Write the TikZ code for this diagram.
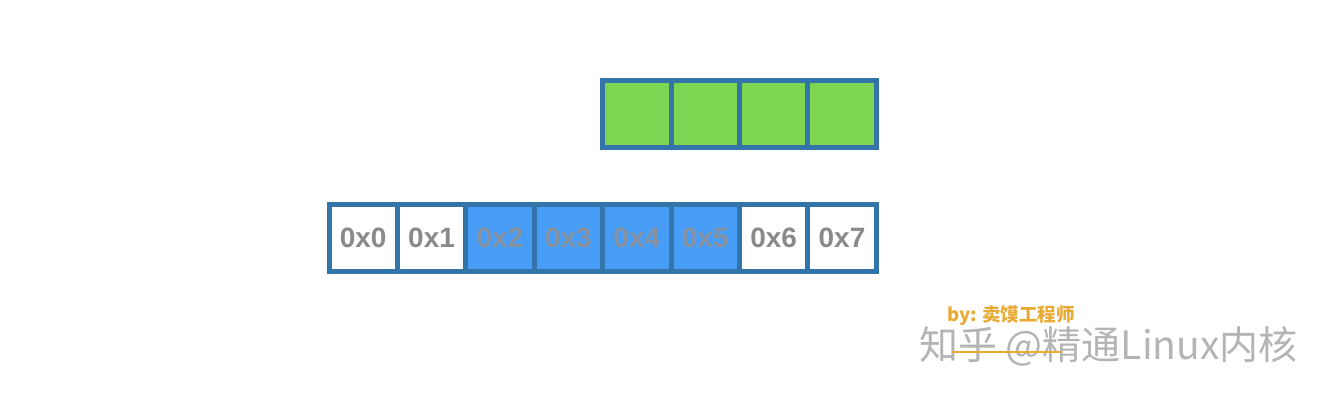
\documentclass[tikz,border=0pt]{standalone}
\usepackage{fontspec}
\setmainfont{Liberation Sans}
\newfontfamily\cjk{Noto Sans CJK SC}
\definecolor{edge}{HTML}{3374A9}
\definecolor{bluefill}{HTML}{479DF5}
\definecolor{greenfill}{HTML}{7ED552}
\definecolor{txt}{HTML}{8A8A8A}
\definecolor{txtb}{HTML}{8891A0}
\definecolor{mark}{HTML}{B4B4B4}
\definecolor{orangec}{HTML}{E9AA33}
\tikzset{
  cellbox/.style={draw=edge, line width=5pt, minimum width=68.4pt, minimum height=67.5pt, inner sep=0pt, anchor=south west, font=\fontsize{28}{30}\selectfont\bfseries},
  whitecell/.style={cellbox, fill=white, text=txt},
  bluecell/.style={cellbox, fill=bluefill, text=txtb},
  greencell/.style={cellbox, fill=greenfill}
}
\begin{document}
\begin{tikzpicture}[x=1pt,y=-1pt]
\useasboundingbox (0,0) rectangle (1330,400);
% bottom row
\node[whitecell] (c0) at (326.5,274) {0x0};
\node[whitecell] (c1) at (394.9,274) {0x1};
\node[bluecell] (c2) at (463.3,274) {0x2};
\node[bluecell] (c3) at (531.7,274) {0x3};
\node[bluecell] (c4) at (600.1,274) {0x4};
\node[bluecell] (c5) at (668.5,274) {0x5};
\node[whitecell] (c6) at (736.9,274) {0x6};
\node[whitecell] (c7) at (805.3,274) {0x7};
% top row
\node[greencell] (g0) at (600.1,150) {};
\node[greencell] (g1) at (668.5,150) {};
\node[greencell] (g2) at (736.9,150) {};
\node[greencell] (g3) at (805.3,150) {};
% watermark
\node[text=mark, font=\cjk\fontsize{39}{41}\selectfont, anchor=west, inner sep=0pt] (wm) at (919,346) {知乎 @精通Linux内核};
\node[text=orangec, font=\cjk\fontsize{18.5}{20}\selectfont\bfseries, anchor=west, inner sep=0pt] (by) at (947,316) {by: 卖馍工程师};
\coordinate (u1) at (952,352);
\coordinate (u2) at (1062,352);
\draw[orangec, line width=1.5pt] (u1) -- (u2);
\end{tikzpicture}
\end{document}
